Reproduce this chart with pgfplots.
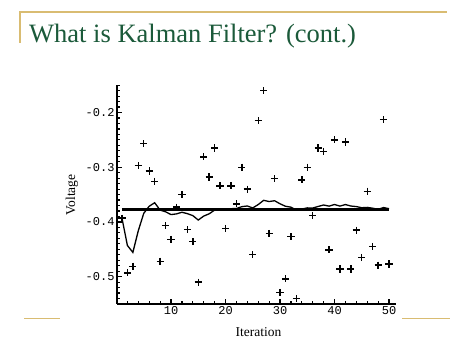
\documentclass[border=0pt]{standalone}
\usepackage{pgfplots}
\pgfplotsset{compat=1.18}
\usepackage{fontspec}
\setmainfont{Liberation Serif}
\setmonofont{Liberation Mono}
\definecolor{titlegreen}{HTML}{1B5A3A}
\definecolor{gold}{HTML}{D9BC72}
\begin{document}
\begin{tikzpicture}
\fill[white] (0,0) rectangle (474pt,355pt);
\useasboundingbox (0,0) rectangle (474pt,355pt);
\draw[gold, line width=1.2pt] (20pt,343pt) -- (447pt,343pt);
\draw[gold, line width=1.2pt] (20pt,343.6pt) -- (20pt,312pt);
\draw[gold, line width=1pt] (24pt,36pt) -- (60pt,36pt);
\draw[gold, line width=1pt] (402pt,36pt) -- (450pt,36pt);
\node[anchor=base west, inner sep=0pt, text=titlegreen, font=\fontsize{26.5}{30}\selectfont] at (29pt,312pt) {What is Kalman Filter? (cont.)};
\node[anchor=base, inner sep=0pt, font=\fontsize{13.5}{13.5}\selectfont] at (258.5pt,18pt) {Iteration};
\node[anchor=base, inner sep=0pt, rotate=90, font=\fontsize{13.5}{13.5}\selectfont] at (75pt,160pt) {Voltage};
\begin{axis}[
  at={(116.5pt,51pt)}, anchor=south west, scale only axis,
  width=279.6pt, height=218.8pt,
  xmin=0, xmax=51.3, ymin=-0.55, ymax=-0.15,
  axis x line=bottom, axis y line=left,
  axis line style={line width=2pt,-},
  clip=false,
  xtick={10,20,30,40,50}, xticklabels={10,20,30,40,50},
  ytick={-0.5,-0.4,-0.3,-0.2}, yticklabels={-0.5,-0.4,-0.3,-0.2},
  minor xtick={2,4,...,50},
  minor ytick={-0.55,-0.54,...,-0.15},
  tick align=inside,
  major tick length=5pt, minor tick length=3pt,
  every tick/.style={black, line width=1.2pt},
  ticklabel style={font=\ttfamily\fontsize{12}{12}\selectfont},
  xticklabel style={yshift=1pt},
  yticklabel style={xshift=1.5pt},
]
\addplot[black, line width=1.4pt, mark=+, only marks, mark size=3.6pt] coordinates {
(1,-0.393) (2,-0.493) (3,-0.481) (4,-0.297) (5,-0.257) (6,-0.307) (7,-0.326) (8,-0.472) (9,-0.407) (10,-0.432)
(11,-0.373) (12,-0.350) (13,-0.414) (14,-0.436) (15,-0.510) (16,-0.281) (17,-0.318) (18,-0.265) (19,-0.334) (20,-0.412)
(21,-0.334) (22,-0.367) (23,-0.300) (24,-0.340) (25,-0.460) (26,-0.215) (27,-0.160) (28,-0.421) (29,-0.321) (30,-0.529)
(31,-0.504) (32,-0.427) (33,-0.540) (34,-0.323) (35,-0.300) (36,-0.388) (37,-0.265) (38,-0.271) (39,-0.451) (40,-0.250)
(41,-0.486) (42,-0.254) (43,-0.486) (44,-0.415) (45,-0.465) (46,-0.344) (47,-0.445) (48,-0.479) (49,-0.213) (50,-0.477)
};
\addplot[black, line width=2.4pt] coordinates {(1,-0.3773) (50,-0.3773)};
\addplot[black, line width=1.3pt] coordinates {
(1,-0.3930) (2,-0.4430) (3,-0.4557) (4,-0.4160) (5,-0.3842) (6,-0.3713) (7,-0.3649) (8,-0.3783) (9,-0.3814) (10,-0.3865)
(11,-0.3853) (12,-0.3823) (13,-0.3848) (14,-0.3884) (15,-0.3965) (16,-0.3893) (17,-0.3851) (18,-0.3784) (19,-0.3761) (20,-0.3779)
(21,-0.3758) (22,-0.3754) (23,-0.3721) (24,-0.3708) (25,-0.3744) (26,-0.3682) (27,-0.3605) (28,-0.3627) (29,-0.3612) (30,-0.3668)
(31,-0.3713) (32,-0.3730) (33,-0.3781) (34,-0.3764) (35,-0.3743) (36,-0.3746) (37,-0.3717) (38,-0.3690) (39,-0.3711) (40,-0.3681)
(41,-0.3710) (42,-0.3682) (43,-0.3709) (44,-0.3719) (45,-0.3740) (46,-0.3734) (47,-0.3749) (48,-0.3770) (49,-0.3737) (50,-0.3758)
};
\end{axis}
\end{tikzpicture}
\end{document}
